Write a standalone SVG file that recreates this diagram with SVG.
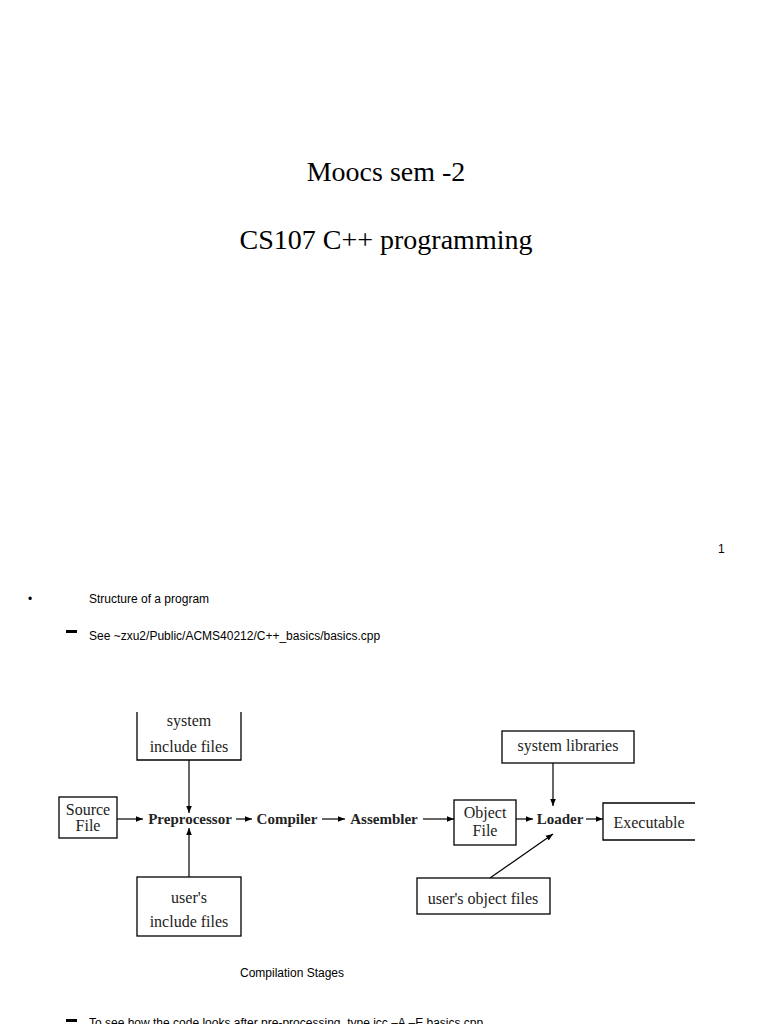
<svg xmlns="http://www.w3.org/2000/svg" width="768" height="1024" viewBox="0 0 768 1024">
<style>
.t{font-family:"Liberation Serif",serif;fill:#000}
.s{font-family:"Liberation Sans",sans-serif;font-size:12px;fill:#000}
.d{font-family:"Liberation Serif",serif;font-size:16px;fill:#222;text-anchor:middle}
.b{font-family:"Liberation Serif",serif;font-size:15px;font-weight:bold;fill:#222;text-anchor:middle}
.box{fill:#fff;stroke:#000;stroke-width:1.3}
.c{stroke:#000;stroke-width:1.2;fill:none;marker-end:url(#a)}
</style>
<defs><marker id="a" viewBox="0 0 10 10" refX="10" refY="5" markerWidth="6" markerHeight="6" orient="auto"><path d="M0,1L10,5L0,9z" fill="#000"/></marker></defs>
<rect width="768" height="1024" fill="#fff"/>
<text class="t" x="386" y="181" font-size="28" text-anchor="middle">Moocs sem -2</text>
<text class="t" x="386" y="249" font-size="28" text-anchor="middle">CS107 C++ programming</text>
<text class="s" x="718" y="553" font-size="10" fill="#555">1</text>
<text class="s" x="28" y="603">•</text>
<text class="s" x="89" y="603">Structure of a program</text>
<rect x="66" y="630" width="11" height="3" fill="#000"/>
<text class="s" x="89" y="640">See ~zxu2/Public/ACMS40212/C++_basics/basics.cpp</text>
<g id="connectors">
<line class="c" x1="117" y1="819" x2="143" y2="819"/>
<line class="c" x1="236" y1="819" x2="252" y2="819"/>
<line class="c" x1="322" y1="819" x2="345" y2="819"/>
<line class="c" x1="423" y1="819" x2="454" y2="819"/>
<line class="c" x1="516" y1="819" x2="533" y2="819"/>
<line class="c" x1="586" y1="819" x2="603" y2="819"/>
<line class="c" x1="189" y1="760" x2="189" y2="813"/>
<line class="c" x1="189" y1="877" x2="189" y2="828"/>
<line class="c" x1="553" y1="763" x2="553" y2="806"/>
<line class="c" x1="490" y1="878" x2="553" y2="834"/>
</g>
<g id="sysinc"><path class="box" d="M137,712V760H241V712"/><text class="d" x="189" y="726">system</text><text class="d" x="189" y="752">include files</text></g>
<g id="source"><rect class="box" x="59" y="797" width="58" height="41"/><text class="d" x="88" y="815">Source</text><text class="d" x="88" y="831">File</text></g>
<g id="pre"><text class="b" x="190" y="824">Preprocessor</text></g>
<g id="comp"><text class="b" x="287" y="824">Compiler</text></g>
<g id="asm"><text class="b" x="384" y="824">Assembler</text></g>
<g id="obj"><rect class="box" x="454" y="800" width="62" height="45"/><text class="d" x="485" y="818">Object</text><text class="d" x="485" y="836">File</text></g>
<g id="loader"><text class="b" x="560" y="824">Loader</text></g>
<g id="exe"><path class="box" d="M695,803H603V840H695"/><text class="d" x="649" y="828">Executable</text></g>
<g id="syslib"><rect class="box" x="502" y="731" width="132" height="32"/><text class="d" x="568" y="751">system libraries</text></g>
<g id="userinc"><rect class="box" x="137" y="877" width="104" height="59"/><text class="d" x="189" y="903">user's</text><text class="d" x="189" y="927">include files</text></g>
<g id="userobj"><rect class="box" x="417" y="878" width="133" height="36"/><text class="d" x="483" y="904">user's object files</text></g>
<text class="s" x="292" y="977" font-size="11" text-anchor="middle">Compilation Stages</text>
<rect x="66" y="1019" width="11" height="3" fill="#000"/>
<text class="s" x="89" y="1027">To see how the code looks after pre-processing, type icc –A –E basics.cpp</text>
</svg>
